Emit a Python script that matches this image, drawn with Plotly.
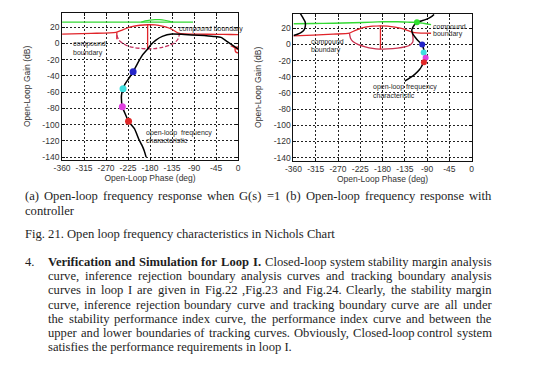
import plotly.graph_objects as go

W, H = 535, 377

# ---------------- axes ticks ----------------
phase_ticks = [-360, -315, -270, -225, -180, -135, -90, -45, 0]
phase_ticktext = ["-360", "-315", "-270", "-225", "-180", "-135", "-90", "-45", "0"]
gain_ticks = [20, 0, -20, -40, -60, -80, -100, -120, -140]
gain_ticktext = ["20", "0", "-20", "-40", "-60", "-80", "-100", "-120", "-140"]

# ---------------- chart (a) data ----------------
a_green_x = [-360, -92]
a_green_y = [26, 26]
a_green_arc_x = [-198, -190, -180, -170, -160, -150, -140, -135]
a_green_arc_y = [26, 27.5, 28.5, 29, 29, 28.3, 27, 26]
a_red_x = [-360, -300, -250, -240, -228, -215, -200, -185, -170, -155, -140, -128, -122, -110, -80, -45, -15, 0]
a_red_y = [11.3, 12.2, 13.4, 15.5, 18.5, 20.8, 22.2, 22.8, 22.6, 21.2, 18.5, 14.5, 12.5, 11.5, 11.2, 11, 10.8, 10.6]
a_tick_x = [-248, -248]
a_tick_y = [13.5, 5]
a_vert_x = [-185, -185]
a_vert_y = [22.8, -6.6]
a_dash_x = [-248, -244, -236, -225, -210, -195, -185, -170, -155, -140, -130, -123, -120]
a_dash_y = [10, 4, 0, -3.5, -5.5, -6.5, -6.8, -6.5, -5, -2.5, 0.5, 5, 11]
a_end_x = [-15, -8, 0]
a_end_y = [-3, -5, -8]
a_black_x = [-188, -192, -197, -203, -212, -224, -230, -236.7, -238.7, -238, -235.3, -231, -225,
             -214.7, -205, -195, -185, -178, -168.7, -155, -135, -110, -80, -50, -35, -22, -10, 0]
a_black_y = [-140, -132, -125, -118, -105, -96, -88, -78, -67, -62, -56, -50, -44.5,
             -35, -24, -14, -7, -1.5, 3.7, 8.5, 11.4, 10.8, 9.8, 8.5, 7.3, 2, -3, -7]
a_dots_x = [-214.7, -235.3, -236.7, -224]
a_dots_y = [-35, -56, -78, -96]
dot_colors = ["#2424c8", "#3ee0e0", "#e040e0", "#e02828"]

# ---------------- chart (b) data ----------------
b_green_x = [-360, -320, -280, -240, -200, -180, -150, -125, -110, -100, -90, -82]
b_green_y = [25.5, 25.8, 26.2, 26.8, 27.6, 28, 28, 27.5, 27.2, 26.3, 25.3, 24.5]
b_red_x = [-360, -320, -280, -247, -240, -228, -215, -200, -185, -170, -155, -140, -128, -120, -110, -95, -82]
b_red_y = [10.5, 11.5, 12.7, 13.9, 16, 19, 21.3, 22.5, 23, 22.7, 21.5, 19.5, 17, 15.3, 14.3, 14, 13.8]
b_ell_x = [-247, -245, -240, -230, -215, -200, -187, -170, -150, -135, -125, -119, -118.5, -120]
b_ell_y = [13.9, 8, 3.5, 0, -3, -5, -5.8, -5.5, -4.5, -3, -1, 3, 7.7, 15]
b_vert_x = [-184.3, -184.3]
b_vert_y = [23, -5.8]
b_black1_x = [-346, -341, -336.5, -336, -338.5, -345, -352, -360]
b_black1_y = [38, 33, 28, 23, 18, 14.5, 12.5, 11]
b_black2_x = [-76, -82, -92, -102, -110.6, -116, -121, -119, -113, -108.7, -104, -100, -97.4, -95,
              -92, -94, -97.4, -101, -105.3, -115, -125, -135]
b_black2_y = [37, 34, 31, 29, 27.4, 24, 18, 13, 8, 4.8, 2, 0, -5, -10,
              -16.8, -19.5, -22, -27, -31, -37, -41.5, -45.5]
b_dots_x = [-110.6, -100, -97, -93, -96.5]
b_dots_y = [27.4, 0, -10, -16.5, -22]
b_dot_colors = ["#2ee02e", "#2424c8", "#3ee0e0", "#e040e0", "#e02828"]

# ---------------- chart labels ----------------
a_labels = [("compound boundary", -125, 18), ("compound", -342, -1), ("boundary", -342, -12),
            ("open-loop  frequency", -193, -110), ("characteristic", -193, -120)]
b_labels = [("compound", -82, 22), ("boundary", -82, 12.6), ("compound", -329, 2.8),
            ("boundary", -329, -7.5), ("open-loop frequency", -204, -53), ("characteristic", -204, -63)]

# ---------------- page text ----------------
caption_lines = [
    "(a) Open-loop frequency response when G(s) =1 (b) Open-loop frequency response with",
    "controller",
    "Fig. 21. Open loop frequency characteristics in Nichols Chart",
]
para_number = "4."
para_bold = "Verification and Simulation for Loop I."
para_lines = [
    "Closed-loop system stability margin analysis",
    "curve, inference rejection boundary analysis curves and tracking boundary analysis",
    "curves in loop I are given in Fig.22 ,Fig.23 and Fig.24. Clearly, the stability margin",
    "curve, inference rejection boundary curve and tracking boundary curve are all under",
    "the stability performance index curve, the performance index curve and between the",
    "upper and lower boundaries of tracking curves. Obviously, Closed-loop control system",
    "satisfies the performance requirements in loop I.",
]

GREEN = "#33d933"
RED = "#e0242a"
BLACK = "#000000"

fig = go.Figure()


def add_line(x, y, color, width, xa, ya, dash="solid"):
    fig.add_trace(go.Scatter(x=x, y=y, mode="lines", line=dict(color=color, width=width, dash=dash,
                                                                  shape="spline", smoothing=0.6),
                             xaxis=xa, yaxis=ya, showlegend=False, hoverinfo="skip"))


# chart (a)
add_line(a_green_x, a_green_y, GREEN, 1.4, "x", "y")
add_line(a_green_arc_x, a_green_arc_y, GREEN, 1.2, "x", "y")
add_line(a_red_x, a_red_y, RED, 1.3, "x", "y")
add_line(a_tick_x, a_tick_y, RED, 1.3, "x", "y")
add_line(a_vert_x, a_vert_y, RED, 1.3, "x", "y")
add_line(a_dash_x, a_dash_y, "#c4305e", 1.3, "x", "y", dash="4px,2px")
add_line(a_end_x, a_end_y, RED, 1.2, "x", "y")
fig.add_trace(go.Scatter(x=[a_end_x[-1]], y=[a_end_y[-1]], mode="markers",
                         marker=dict(symbol="circle-open", size=6, color=RED, line=dict(width=1.3)),
                         xaxis="x", yaxis="y", showlegend=False, hoverinfo="skip"))
add_line(a_black_x, a_black_y, BLACK, 1.5, "x", "y")
fig.add_trace(go.Scatter(x=a_dots_x, y=a_dots_y, mode="markers",
                         marker=dict(size=7, color=dot_colors), xaxis="x", yaxis="y",
                         showlegend=False, hoverinfo="skip"))

# chart (b)
add_line(b_green_x, b_green_y, GREEN, 1.4, "x2", "y2")
add_line(b_red_x, b_red_y, RED, 1.3, "x2", "y2")
add_line(b_ell_x, b_ell_y, "#c8304e", 1.3, "x2", "y2")
add_line(b_vert_x, b_vert_y, RED, 1.3, "x2", "y2")
add_line(b_black1_x, b_black1_y, BLACK, 1.5, "x2", "y2")
add_line(b_black2_x, b_black2_y, BLACK, 1.5, "x2", "y2")
fig.add_trace(go.Scatter(x=b_dots_x, y=b_dots_y, mode="markers",
                         marker=dict(size=6, color=b_dot_colors), xaxis="x2", yaxis="y2",
                         showlegend=False, hoverinfo="skip"))

annotations = []
for txt, x, y in a_labels:
    annotations.append(dict(text=txt, x=x, y=y, xref="x", yref="y", xanchor="left", yanchor="middle",
                            showarrow=False, font=dict(family="Liberation Sans", size=7, color="#2a2a2a")))
for txt, x, y in b_labels:
    annotations.append(dict(text=txt, x=x, y=y, xref="x2", yref="y2", xanchor="left", yanchor="middle",
                            showarrow=False, font=dict(family="Liberation Sans", size=7, color="#2a2a2a")))

# ---- Times metric tables (Liberation Serif is metric compatible) ----
TR = dict(zip("abcdefghijklmnopqrstuvwxyz",
              [444, 500, 444, 500, 444, 333, 500, 500, 278, 278, 500, 278, 778, 500, 500, 500, 500, 333, 389, 278,
               500, 500, 722, 500, 500, 444]))
TR.update(zip("ABCDEFGHIJKLMNOPQRSTUVWXYZ",
              [722, 667, 667, 722, 611, 556, 722, 722, 333, 389, 722, 611, 889, 722, 722, 556, 722, 667, 556, 611,
               722, 722, 944, 722, 722, 611]))
TR.update({c: 500 for c in "0123456789"})
TR.update({" ": 250, ",": 250, ".": 250, "-": 333, "(": 333, ")": 333, "=": 564, ";": 278, ":": 278})
TB = dict(zip("abcdefghijklmnopqrstuvwxyz",
              [500, 556, 444, 556, 444, 333, 500, 556, 278, 333, 556, 278, 833, 556, 500, 556, 556, 444, 389, 333,
               556, 500, 722, 500, 500, 444]))
TB.update(zip("ABCDEFGHIJKLMNOPQRSTUVWXYZ",
              [722, 667, 722, 722, 667, 611, 778, 778, 389, 500, 778, 667, 944, 722, 778, 611, 778, 722, 556, 667,
               722, 722, 1000, 722, 722, 667]))
TB.update({c: 500 for c in "0123456789"})
TB.update({" ": 250, ",": 250, ".": 250, "-": 333})

FS = 12.6
SERIF = "Liberation Serif"
TXT_COLOR = "#1e1e1e"


def wwidth(word, bold):
    tbl = TB if bold else TR
    return sum(tbl.get(c, 500) for c in word) * FS / 1000.0


def text_ann(text, x, ycen):
    annotations.append(dict(text=text, x=x / W, y=1 - ycen / H,
                            xref="paper", yref="paper", xanchor="left", yanchor="middle",
                            showarrow=False, borderpad=0, borderwidth=0,
                            font=dict(family=SERIF, size=FS, color=TXT_COLOR)))


def justify(words, x0, x1, ycen):
    widths = [wwidth(w, b) for w, b in words]
    gap = (x1 - x0 - sum(widths)) / (len(words) - 1)
    cur = x0
    for (w, b), wd in zip(words, widths):
        text_ann(("<b>%s</b>" % w) if b else w, cur, ycen)
        cur += wd + gap


def words_of(s, bold=False):
    return [(w, bold) for w in s.split()]


justify(words_of(caption_lines[0]), 16, 493, 197.5)
text_ann(caption_lines[1], 16, 212.5)
text_ann(caption_lines[2], 16, 235)
text_ann(para_number, 16, 263.3)
line_y = [263.3, 277.6, 291.9, 306.2, 320.5, 334.8, 349.1]
justify(words_of(para_bold, True) + words_of(para_lines[0]), 40, 493, line_y[0])
for i in range(1, 6):
    justify(words_of(para_lines[i]), 40, 493, line_y[i])
text_ann(para_lines[6], 40, line_y[6])

axis_common = dict(range=[-360, 0], tickvals=phase_ticks, ticktext=phase_ticktext,
                   showgrid=True, gridcolor="#222", griddash="2px,2px", gridwidth=1,
                   showline=True, mirror="ticks", linecolor="#111", linewidth=1,
                   ticks="inside", ticklen=3, tickcolor="#111", zeroline=False,
                   tickfont=dict(family="Liberation Sans", size=8.5, color="#333"),
                   title=dict(text="Open-Loop Phase (deg)", standoff=1,
                              font=dict(family="Liberation Sans", size=8.5, color="#333")))
yaxis_common = dict(range=[-143.7, 37.7], tickvals=gain_ticks, ticktext=gain_ticktext,
                    showgrid=True, gridcolor="#222", griddash="2px,2px", gridwidth=1,
                    showline=True, mirror="ticks", linecolor="#111", linewidth=1,
                    ticks="inside", ticklen=3, tickcolor="#111", zeroline=False,
                    tickfont=dict(family="Liberation Sans", size=8.5, color="#333"),
                    title=dict(text="Open-Loop Gain (dB)", standoff=10,
                               font=dict(family="Liberation Sans", size=8.5, color="#333")))

fig.update_layout(
    width=W, height=H, autosize=False,
    margin=dict(l=0, r=0, t=0, b=0),
    paper_bgcolor="white", plot_bgcolor="white",
    showlegend=False,
    xaxis=dict(domain=[54.3 / W, 234.3 / W], anchor="y", **axis_common),
    yaxis=dict(domain=[1 - 161 / H, 1 - 12.7 / H], anchor="x", **yaxis_common),
    xaxis2=dict(domain=[291 / W, 473.3 / W], anchor="y2", **axis_common),
    yaxis2=dict(domain=[1 - 161.5 / H, 1 - 14 / H], anchor="x2", **yaxis_common),
    annotations=annotations,
)

fig.write_html("out.html", config={"displayModeBar": False},
               post_script="document.body.style.margin='0';document.body.style.overflow='hidden';")
